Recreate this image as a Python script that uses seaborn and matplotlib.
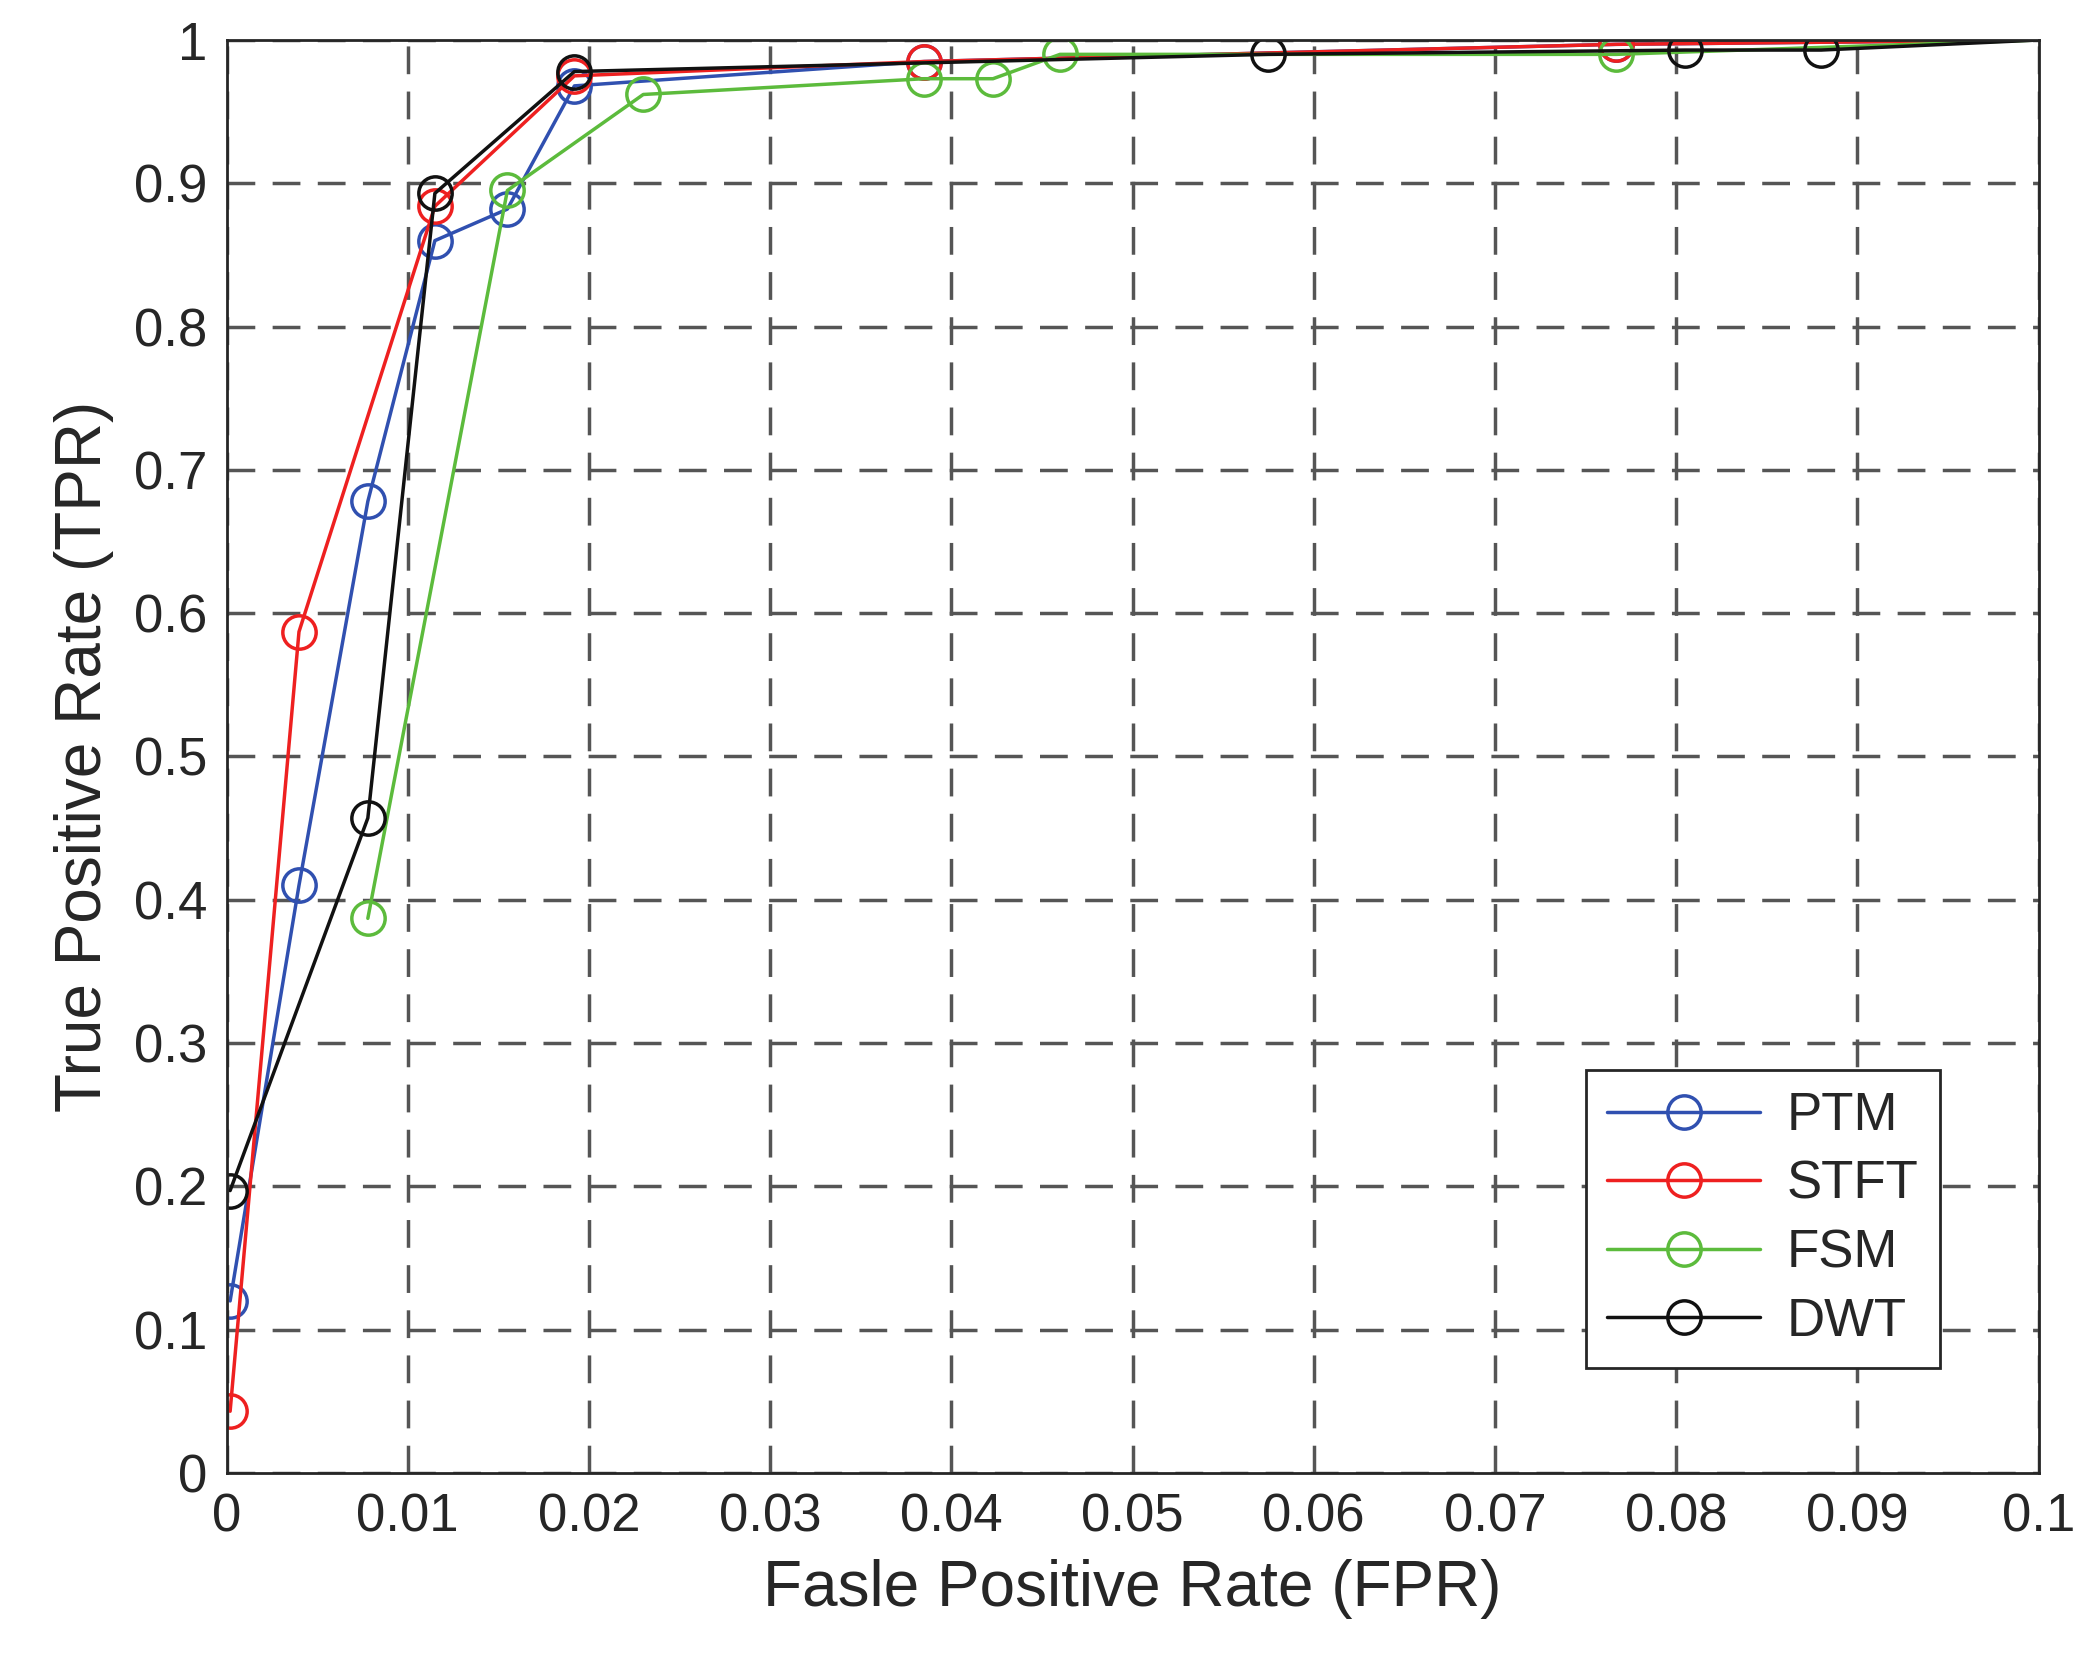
import matplotlib
matplotlib.use("Agg")
import matplotlib.pyplot as plt
import seaborn as sns

ptm_x = [0.0002, 0.004, 0.0078, 0.0115, 0.0155, 0.0192, 0.0385, 0.0767, 0.1]
ptm_y = [0.12, 0.41, 0.678, 0.86, 0.882, 0.968, 0.985, 0.997, 1.0]
stft_x = [0.0002, 0.004, 0.0115, 0.0192, 0.0385, 0.0767, 0.1]
stft_y = [0.043, 0.587, 0.884, 0.975, 0.985, 0.997, 1.0]
fsm_x = [0.0078, 0.0155, 0.023, 0.0385, 0.0423, 0.046, 0.0767, 0.1]
fsm_y = [0.387, 0.895, 0.962, 0.973, 0.973, 0.99, 0.99, 1.0]
dwt_x = [0.0002, 0.0078, 0.0115, 0.0192, 0.0575, 0.0805, 0.088, 0.1]
dwt_y = [0.197, 0.457, 0.893, 0.978, 0.99, 0.993, 0.993, 1.0]
names = ["PTM", "STFT", "FSM", "DWT"]
colors = ["#3050b0", "#ee2020", "#5cbb3c", "#111111"]

sns.set_style("white")
plt.rcParams['font.family'] = ['Liberation Sans', 'DejaVu Sans']
fig = plt.figure(figsize=(20.78, 16.68), dpi=100)
ax = fig.add_axes([0.109, 0.117, 0.872, 0.859])
series = [(ptm_x, ptm_y), (stft_x, stft_y), (fsm_x, fsm_y), (dwt_x, dwt_y)]
for (xs, ys), n, c in zip(series, names, colors):
    sns.lineplot(x=xs, y=ys, ax=ax, color=c, linewidth=2.5, sort=False,
                 marker='o', markersize=24, markerfacecolor='none',
                 markeredgecolor=c, markeredgewidth=2.5,
                 markevery=list(range(len(xs) - 1)), label=n)
ax.set_xlim(0, 0.1)
ax.set_ylim(0, 1)
ax.set_xticks([i / 100 for i in range(11)])
ax.set_xticklabels(["0"] + [f"{i/100:g}" for i in range(1, 10)] + ["0.1"])
ax.set_yticks([i / 10 for i in range(11)])
ax.set_yticklabels(["0"] + [f"{i/10:g}" for i in range(1, 10)] + ["1"])
ax.grid(True, linestyle=(0, (8, 5)), color="#555555", linewidth=2.5)
ax.set_axisbelow(True)
for s in ax.spines.values():
    s.set_color("#262626"); s.set_linewidth(2)
ax.tick_params(labelsize=38, colors="#262626", direction='in', length=8, width=2, pad=14)
ax.set_xlabel("Fasle Positive Rate (FPR)", fontsize=46, color="#262626", labelpad=12)
ax.set_ylabel("True Positive Rate (TPR)", fontsize=46, color="#262626", labelpad=14)
leg = ax.legend(loc="lower right", bbox_to_anchor=(0.96, 0.055), fontsize=38,
                frameon=True, fancybox=False, edgecolor="#262626",
                handlelength=2.9, borderpad=0.4, labelspacing=0.35, handletextpad=0.5)
leg.get_frame().set_linewidth(2)
leg.get_frame().set_alpha(1)
fig.savefig("out.png", dpi=100, facecolor="white")
